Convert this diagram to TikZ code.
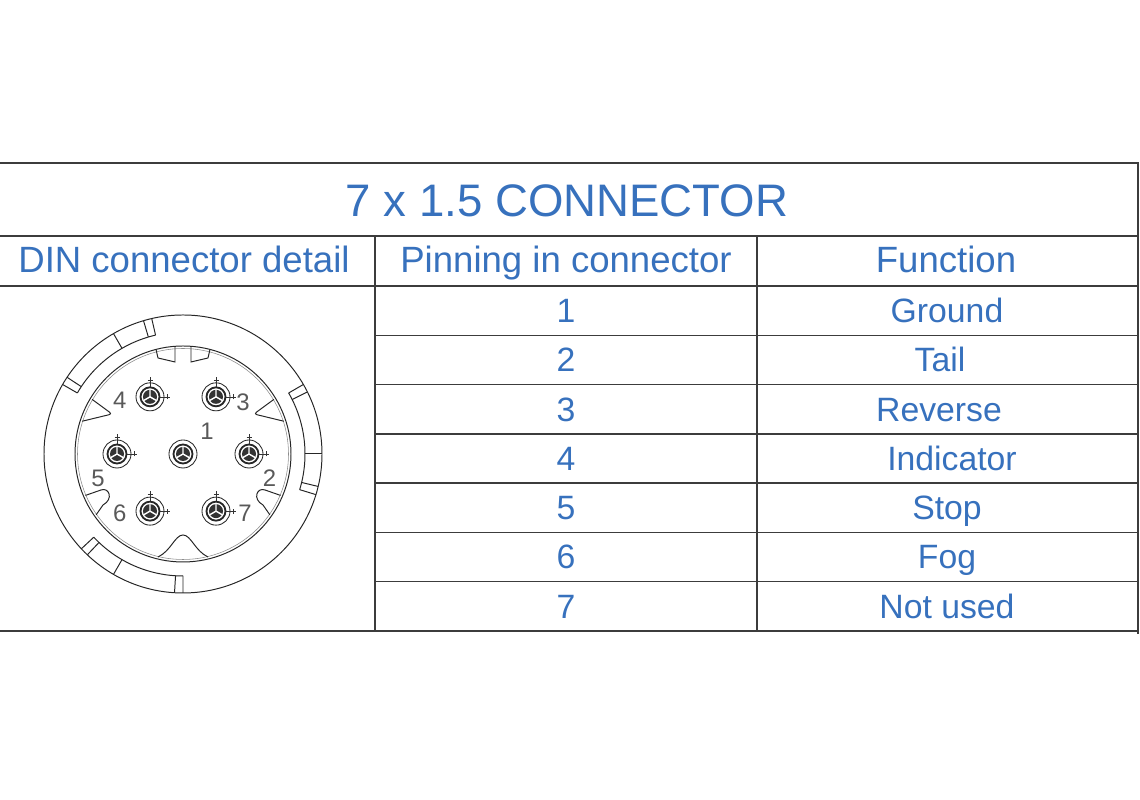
\documentclass[tikz,border=0pt]{standalone}
\usepackage{fontspec}
\setmainfont{Liberation Sans}
\definecolor{tabblue}{RGB}{55,113,189}
\definecolor{ruling}{RGB}{60,60,60}

\begin{document}
\begin{tikzpicture}[x=0.025cm, y=0.025cm,
    tableline/.style ={draw=ruling, line width=0.9pt},
    heading/.style ={text=tabblue, font=\fontsize{26}{30}\selectfont, anchor=base, inner sep=0pt},
    entry/.style ={text=tabblue, font=\fontsize{24}{28}\selectfont, anchor=base, inner sep=0pt},
    body/.style ={draw=black!85, line width=0.7pt},
    tick/.style ={draw=black!80, line width=0.4pt},
    digit/.style ={text=black!65, font=\fontsize{17}{17}\selectfont, inner sep=0pt},
    contact/.style ={circle, draw=black!85, line width=0.6pt, inner sep = 0pt, minimum size=0.7cm,
      path picture={
        \draw[line width=1.3pt, black!85] (path picture bounding box.center) circle (9.5);
        \fill[black!80] (path picture bounding box.center) circle (7);
        \draw[white, line width=1pt] (path picture bounding box.center) -- ++(90:7.5)
          (path picture bounding box.center) -- ++(210:7.5)
          (path picture bounding box.center) -- ++(330:7.5);
      }}]
   \useasboundingbox (0,0) rectangle (1140,800);

   % table ruling
   \draw[tableline] (0,637) -- (1138,637) -- (1138,166);
   \draw[tableline] (0,564) -- (1138,564);
   \draw[tableline] (0,514) -- (1138,514);
   \draw[tableline] (0,169) -- (1138,169);
   \draw[tableline] (375,564) -- (375,169);
   \draw[tableline] (757,564) -- (757,169);
   \foreach \y in {464.7,415.4,366.1,316.9,267.6,218.3}
     \draw[tableline] (375,\y) -- (1138,\y);

   \node[text=tabblue, font=\fontsize{32.4}{38}\selectfont] (title) at (567,599) {7 x 1.5 CONNECTOR};
   \node[heading] (din) at (184,527) {DIN connector detail};
   \node[heading] (pinning) at (566,527) {Pinning in connector};
   \node[heading] (function) at (946,527) {Function};

   \node[entry] (n1) at (566,477.5) {1};
   \node[entry] (n2) at (566,428.2) {2};
   \node[entry] (n3) at (566,378.9) {3};
   \node[entry] (n4) at (566,329.6) {4};
   \node[entry] (n5) at (566,280.4) {5};
   \node[entry] (n6) at (566,231.1) {6};
   \node[entry] (n7) at (566,181.8) {7};

   \node[entry] (f1) at (947,477.5) {Ground};
   \node[entry] (f2) at (940,428.2) {Tail};
   \node[entry] (f3) at (939,378.9) {Reverse};
   \node[entry] (f4) at (952,329.6) {Indicator};
   \node[entry] (f5) at (947,280.4) {Stop};
   \node[entry] (f6) at (947,231.1) {Fog};
   \node[entry] (f7) at (947,181.8) {Not used};

   % DIN connector, front view
   \begin{scope}[shift={(183,346)}]
   \draw[body] (0,0) circle (139);
   \draw[body] (0,0) circle (108);
   \draw[draw=black!45, line width=0.4pt] (0,0) circle (105.5);
   \foreach \t in {0,120,240} {
     \draw[body] (\t-17:122) arc[start angle=\t-17, end angle=\t+30, radius=122];
     \draw[body] (\t:122) -- (\t:139);
     \draw[body] (\t-17:122) -- (\t-17:139) (\t-13.5:122) -- (\t-13.5:139);
     \draw[body] (\t+26.5:122) -- (\t+26.5:139) (\t+30:122) -- (\t+30:139);
   }

   % keys
   \draw[body] (-27,104.6) -- (-25,96) -- (-8,92) -- (-8,107.7);
   \draw[body] (8,107.7) -- (8,92) -- (25,96) -- (27,104.6);
   \draw[body, rounded corners=2pt] (149:106) -- (-71,40) -- (162:106);
   \draw[body, rounded corners=2pt] (31:106) -- (71,40) -- (18:106);
   \draw[body] (203:106) -- (-82,-36) .. controls (-74,-33) and (-69,-45) .. (-80,-51) -- (215:106);
   \draw[body] (-23:106) -- (82,-36) .. controls (74,-33) and (69,-45) .. (80,-51) -- (-35:106);
   \draw[body] (-25,-103) .. controls (-12,-97) and (-8,-81) .. (0,-81)
     .. controls (8,-81) and (12,-97) .. (25,-103);

   % contacts
   \node[contact] (p1) [label={[digit, label distance=0.2cm]40:1}] at (0,0) {};
   \node[contact] (p2) [label={[digit, label distance=0.16cm]-49:2}] at (0:66) {};
   \node[contact] (p3) [label={[digit, label distance=0.14cm, yshift=-0.125cm]0:3}] at (60:66) {};
   \node[contact] (p4) [label={[digit, label distance=0.22cm, yshift=-0.075cm]180:4}] at (120:66) {};
   \node[contact] (p5) [label={[digit, label distance=0.13cm]232:5}] at (180:66) {};
   \node[contact] (p6) [label={[digit, label distance=0.22cm, yshift=-0.05cm]180:6}] at (240:66) {};
   \node[contact] (p7) [label={[digit, label distance=0.19cm, yshift=-0.05cm]0:7}] at (300:66) {};

   \foreach \p in {p2,p3,p4,p5,p6,p7} {
     \draw[tick] (\p.center) ++(0,10) -- ++(0,10) ++(-2.5,-3) -- ++(5,0);
     \draw[tick] (\p.center) ++(10,0) -- ++(10,0) ++(-3,-2.5) -- ++(0,5);
   }
   \end{scope}
 \end{tikzpicture}
\end{document}
